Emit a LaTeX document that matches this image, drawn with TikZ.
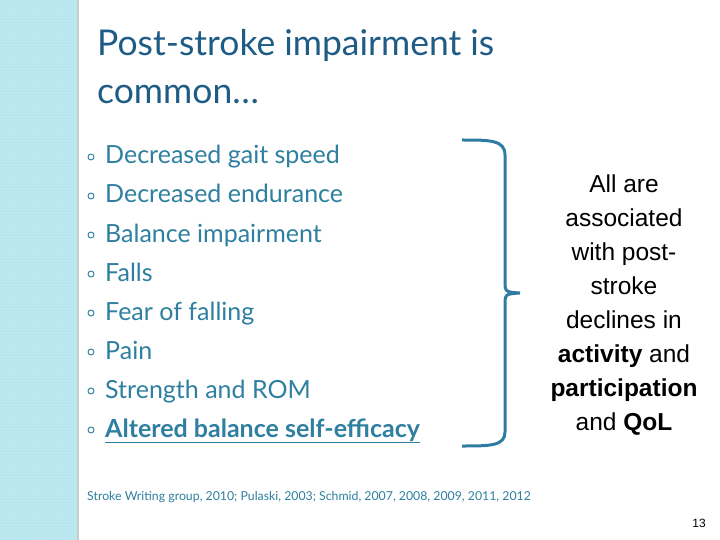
\documentclass[tikz,border=0pt]{standalone}
\usepackage{fontspec}
\setmainfont{Lato}
\newfontfamily\arialf{Liberation Sans}
\usetikzlibrary{patterns}
\definecolor{strip}{HTML}{B8E6EE}
\definecolor{titlec}{HTML}{1F5C85}
\definecolor{itemc}{HTML}{2E7FA0}
\definecolor{brk}{HTML}{2F7CA2}
\tikzset{item/.style={anchor=base west,text=itemc,font=\fontsize{25}{28}\selectfont,inner sep=0pt},
bul/.style={circle,draw=itemc,line width=0.9pt,minimum size=6pt,inner sep=0pt}}
\begin{document}
\begin{tikzpicture}[x=1pt,y=-1pt]
\useasboundingbox (0,0) rectangle (720,540);
\fill[white] (0,0) rectangle (720,540);
\fill[strip] (0,0) rectangle (77,540);
\fill[pattern=dots,pattern color=white!60!strip] (0,0) rectangle (77,540);
\fill[black!20] (77,0) rectangle (79,540);
\node[anchor=base west,text=titlec,font=\fontsize{35.5}{48}\selectfont,align=left,inner sep=0pt] (title) at (97,104) {Post-stroke impairment is\\common…};
\foreach \t [count=\i] in {Decreased gait speed,Decreased endurance,Balance impairment,Falls,Fear of falling,Pain,Strength and ROM}{
  \node[bul] (b\i) at (91,{157+(\i-1)*39}) {};
  \node[item] (t\i) at (105,{164+(\i-1)*39}) {\t};
}
\node[bul] (b8) at (91,430) {};
\node[item,font=\fontsize{25}{28}\selectfont\bfseries] (t8) at (105,437) {\underline{Altered balance self-efficacy}};
\draw[brk,line width=3pt] (462,140) .. controls (490,140) and (505,140) .. (505,155) -- (505,280) .. controls (505,292) .. (520,293)
  .. controls (505,294) .. (505,306) -- (505,432) .. controls (505,446) and (490,446) .. (462,446);
\node[align=center,font=\arialf\fontsize{24.5}{34}\selectfont,inner sep=0pt] (note) at (624,305) {All are\\associated\\with post-\\stroke\\declines in\\\textbf{activity} and\\\textbf{participation}\\and \textbf{QoL}};
\node[anchor=base west,text=itemc,font=\fontsize{12.3}{14}\selectfont,inner sep=0pt] (ref) at (87,500) {Stroke Writing group, 2010; Pulaski, 2003; Schmid, 2007, 2008, 2009, 2011, 2012};
\node[anchor=base east,font=\arialf\fontsize{12}{14}\selectfont,inner sep=0pt] (pg) at (706,527) {13};
\end{tikzpicture}
\end{document}
